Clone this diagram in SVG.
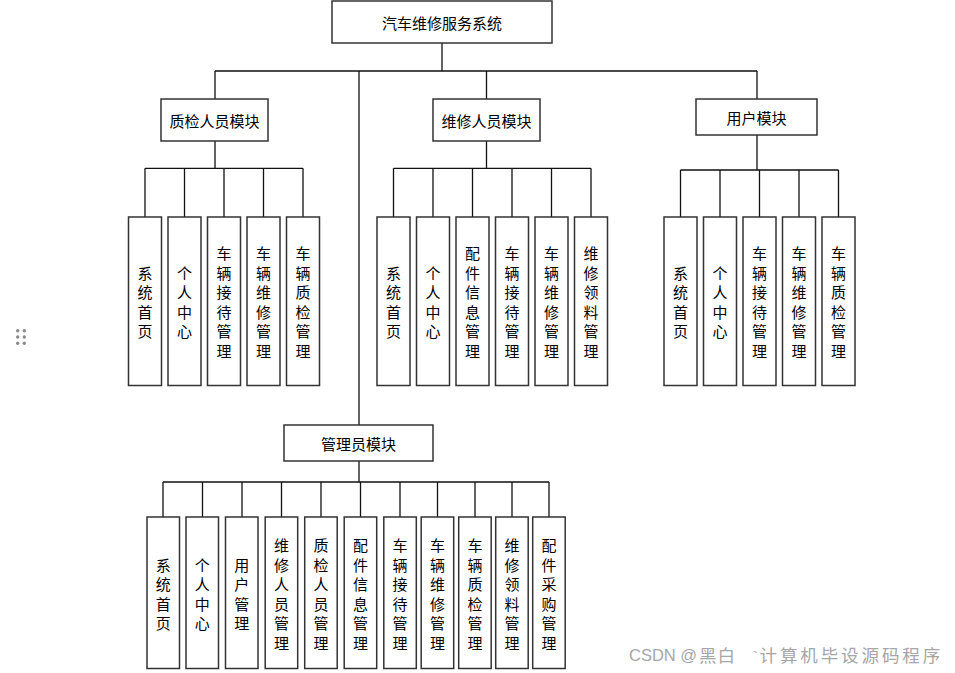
<svg xmlns="http://www.w3.org/2000/svg" width="955" height="673" viewBox="0 0 955 673">
<style>
.box{fill:#fff;stroke:#333;stroke-width:1.5}
.ln{stroke:#111;stroke-width:1.3;fill:none}
.t{font-family:"Noto Sans CJK SC","Noto Sans CJK JP",sans-serif;font-size:15px;fill:#000;text-anchor:middle;dominant-baseline:central}
.wm{font-family:"Liberation Sans","Noto Sans CJK SC",sans-serif;fill:#a6a6a6}
</style>
<rect width="955" height="673" fill="#fff"/>
<g id="connectors">
<path class="ln" d="M442,43V71M215,71H757M215,71V99M486.5,71V99M757,71V99M359,71V425"/>
<path class="ln" d="M215,141V168.3M145,168.3H303M145,168.3V217M184.5,168.3V217M224,168.3V217M263.5,168.3V217M303,168.3V217"/>
<path class="ln" d="M486.5,141V168.3M393.5,168.3H591M393.5,168.3V217M433,168.3V217M472.5,168.3V217M512,168.3V217M551.5,168.3V217M591,168.3V217"/>
<path class="ln" d="M757,135V170M680.5,170H838.5M680.5,170V217M720,170V217M759.5,170V217M799,170V217M838.5,170V217"/>
<path class="ln" d="M359,461V482M163,482H549M163,482V517M202.5,482V517M242,482V517M281.5,482V517M321,482V517M360.5,482V517M400,482V517M437.5,482V517M475,482V517M512,482V517M549,482V517"/>
</g>
<g id="root"><rect class="box" x="332" y="1" width="220" height="42"/><text class="t" x="442" y="22">汽车维修服务系统</text></g>
<g id="m-qc"><rect class="box" x="161" y="99" width="107" height="42"/><text class="t" x="214.5" y="120">质检人员模块</text></g>
<g id="m-repair"><rect class="box" x="433" y="99" width="107" height="42"/><text class="t" x="486.5" y="120">维修人员模块</text></g>
<g id="m-user"><rect class="box" x="696" y="99" width="121" height="36"/><text class="t" x="756.5" y="117">用户模块</text></g>
<g id="m-admin"><rect class="box" x="284" y="425" width="149" height="36"/><text class="t" x="358.5" y="443">管理员模块</text></g>

<g id="qc-1"><rect class="box" x="128.5" y="217" width="33" height="168.5"/><text class="t"><tspan x="145" y="271.5">系</tspan><tspan x="145" y="291">统</tspan><tspan x="145" y="310.5">首</tspan><tspan x="145" y="330">页</tspan></text></g>
<g id="qc-2"><rect class="box" x="168" y="217" width="33" height="168.5"/><text class="t"><tspan x="184.5" y="271.5">个</tspan><tspan x="184.5" y="291">人</tspan><tspan x="184.5" y="310.5">中</tspan><tspan x="184.5" y="330">心</tspan></text></g>
<g id="qc-3"><rect class="box" x="207.5" y="217" width="33" height="168.5"/><text class="t"><tspan x="224" y="252">车</tspan><tspan x="224" y="271.5">辆</tspan><tspan x="224" y="291">接</tspan><tspan x="224" y="310.5">待</tspan><tspan x="224" y="330">管</tspan><tspan x="224" y="349.5">理</tspan></text></g>
<g id="qc-4"><rect class="box" x="247" y="217" width="33" height="168.5"/><text class="t"><tspan x="263.5" y="252">车</tspan><tspan x="263.5" y="271.5">辆</tspan><tspan x="263.5" y="291">维</tspan><tspan x="263.5" y="310.5">修</tspan><tspan x="263.5" y="330">管</tspan><tspan x="263.5" y="349.5">理</tspan></text></g>
<g id="qc-5"><rect class="box" x="286.5" y="217" width="33" height="168.5"/><text class="t"><tspan x="303" y="252">车</tspan><tspan x="303" y="271.5">辆</tspan><tspan x="303" y="291">质</tspan><tspan x="303" y="310.5">检</tspan><tspan x="303" y="330">管</tspan><tspan x="303" y="349.5">理</tspan></text></g>

<g id="rp-1"><rect class="box" x="377" y="217" width="33" height="168.5"/><text class="t"><tspan x="393.5" y="271.5">系</tspan><tspan x="393.5" y="291">统</tspan><tspan x="393.5" y="310.5">首</tspan><tspan x="393.5" y="330">页</tspan></text></g>
<g id="rp-2"><rect class="box" x="416.5" y="217" width="33" height="168.5"/><text class="t"><tspan x="433" y="271.5">个</tspan><tspan x="433" y="291">人</tspan><tspan x="433" y="310.5">中</tspan><tspan x="433" y="330">心</tspan></text></g>
<g id="rp-3"><rect class="box" x="456" y="217" width="33" height="168.5"/><text class="t"><tspan x="472.5" y="252">配</tspan><tspan x="472.5" y="271.5">件</tspan><tspan x="472.5" y="291">信</tspan><tspan x="472.5" y="310.5">息</tspan><tspan x="472.5" y="330">管</tspan><tspan x="472.5" y="349.5">理</tspan></text></g>
<g id="rp-4"><rect class="box" x="495.5" y="217" width="33" height="168.5"/><text class="t"><tspan x="512" y="252">车</tspan><tspan x="512" y="271.5">辆</tspan><tspan x="512" y="291">接</tspan><tspan x="512" y="310.5">待</tspan><tspan x="512" y="330">管</tspan><tspan x="512" y="349.5">理</tspan></text></g>
<g id="rp-5"><rect class="box" x="535" y="217" width="33" height="168.5"/><text class="t"><tspan x="551.5" y="252">车</tspan><tspan x="551.5" y="271.5">辆</tspan><tspan x="551.5" y="291">维</tspan><tspan x="551.5" y="310.5">修</tspan><tspan x="551.5" y="330">管</tspan><tspan x="551.5" y="349.5">理</tspan></text></g>
<g id="rp-6"><rect class="box" x="574.5" y="217" width="33" height="168.5"/><text class="t"><tspan x="591" y="252">维</tspan><tspan x="591" y="271.5">修</tspan><tspan x="591" y="291">领</tspan><tspan x="591" y="310.5">料</tspan><tspan x="591" y="330">管</tspan><tspan x="591" y="349.5">理</tspan></text></g>

<g id="us-1"><rect class="box" x="664" y="217" width="33" height="168.5"/><text class="t"><tspan x="680.5" y="271.5">系</tspan><tspan x="680.5" y="291">统</tspan><tspan x="680.5" y="310.5">首</tspan><tspan x="680.5" y="330">页</tspan></text></g>
<g id="us-2"><rect class="box" x="703.5" y="217" width="33" height="168.5"/><text class="t"><tspan x="720" y="271.5">个</tspan><tspan x="720" y="291">人</tspan><tspan x="720" y="310.5">中</tspan><tspan x="720" y="330">心</tspan></text></g>
<g id="us-3"><rect class="box" x="743" y="217" width="33" height="168.5"/><text class="t"><tspan x="759.5" y="252">车</tspan><tspan x="759.5" y="271.5">辆</tspan><tspan x="759.5" y="291">接</tspan><tspan x="759.5" y="310.5">待</tspan><tspan x="759.5" y="330">管</tspan><tspan x="759.5" y="349.5">理</tspan></text></g>
<g id="us-4"><rect class="box" x="782.5" y="217" width="33" height="168.5"/><text class="t"><tspan x="799" y="252">车</tspan><tspan x="799" y="271.5">辆</tspan><tspan x="799" y="291">维</tspan><tspan x="799" y="310.5">修</tspan><tspan x="799" y="330">管</tspan><tspan x="799" y="349.5">理</tspan></text></g>
<g id="us-5"><rect class="box" x="822" y="217" width="33" height="168.5"/><text class="t"><tspan x="838.5" y="252">车</tspan><tspan x="838.5" y="271.5">辆</tspan><tspan x="838.5" y="291">质</tspan><tspan x="838.5" y="310.5">检</tspan><tspan x="838.5" y="330">管</tspan><tspan x="838.5" y="349.5">理</tspan></text></g>

<g id="ad-1"><rect class="box" x="147" y="517" width="32.5" height="151.5"/><text class="t"><tspan x="163.2" y="563.5">系</tspan><tspan x="163.2" y="583">统</tspan><tspan x="163.2" y="602.5">首</tspan><tspan x="163.2" y="622">页</tspan></text></g>
<g id="ad-2"><rect class="box" x="186" y="517" width="32.5" height="151.5"/><text class="t"><tspan x="202.2" y="563.5">个</tspan><tspan x="202.2" y="583">人</tspan><tspan x="202.2" y="602.5">中</tspan><tspan x="202.2" y="622">心</tspan></text></g>
<g id="ad-3"><rect class="box" x="225.5" y="517" width="32.5" height="151.5"/><text class="t"><tspan x="241.8" y="563.5">用</tspan><tspan x="241.8" y="583">户</tspan><tspan x="241.8" y="602.5">管</tspan><tspan x="241.8" y="622">理</tspan></text></g>
<g id="ad-4"><rect class="box" x="265.2" y="517" width="32.5" height="151.5"/><text class="t"><tspan x="281.5" y="544">维</tspan><tspan x="281.5" y="563.5">修</tspan><tspan x="281.5" y="583">人</tspan><tspan x="281.5" y="602.5">员</tspan><tspan x="281.5" y="622">管</tspan><tspan x="281.5" y="641.5">理</tspan></text></g>
<g id="ad-5"><rect class="box" x="304.7" y="517" width="32.5" height="151.5"/><text class="t"><tspan x="321" y="544">质</tspan><tspan x="321" y="563.5">检</tspan><tspan x="321" y="583">人</tspan><tspan x="321" y="602.5">员</tspan><tspan x="321" y="622">管</tspan><tspan x="321" y="641.5">理</tspan></text></g>
<g id="ad-6"><rect class="box" x="344.2" y="517" width="32.5" height="151.5"/><text class="t"><tspan x="360.5" y="544">配</tspan><tspan x="360.5" y="563.5">件</tspan><tspan x="360.5" y="583">信</tspan><tspan x="360.5" y="602.5">息</tspan><tspan x="360.5" y="622">管</tspan><tspan x="360.5" y="641.5">理</tspan></text></g>
<g id="ad-7"><rect class="box" x="383.8" y="517" width="32.5" height="151.5"/><text class="t"><tspan x="400" y="544">车</tspan><tspan x="400" y="563.5">辆</tspan><tspan x="400" y="583">接</tspan><tspan x="400" y="602.5">待</tspan><tspan x="400" y="622">管</tspan><tspan x="400" y="641.5">理</tspan></text></g>
<g id="ad-8"><rect class="box" x="421.2" y="517" width="32.5" height="151.5"/><text class="t"><tspan x="437.5" y="544">车</tspan><tspan x="437.5" y="563.5">辆</tspan><tspan x="437.5" y="583">维</tspan><tspan x="437.5" y="602.5">修</tspan><tspan x="437.5" y="622">管</tspan><tspan x="437.5" y="641.5">理</tspan></text></g>
<g id="ad-9"><rect class="box" x="458.7" y="517" width="32.5" height="151.5"/><text class="t"><tspan x="475" y="544">车</tspan><tspan x="475" y="563.5">辆</tspan><tspan x="475" y="583">质</tspan><tspan x="475" y="602.5">检</tspan><tspan x="475" y="622">管</tspan><tspan x="475" y="641.5">理</tspan></text></g>
<g id="ad-10"><rect class="box" x="495.7" y="517" width="32.5" height="151.5"/><text class="t"><tspan x="512" y="544">维</tspan><tspan x="512" y="563.5">修</tspan><tspan x="512" y="583">领</tspan><tspan x="512" y="602.5">料</tspan><tspan x="512" y="622">管</tspan><tspan x="512" y="641.5">理</tspan></text></g>
<g id="ad-11"><rect class="box" x="532.7" y="517" width="32.5" height="151.5"/><text class="t"><tspan x="549" y="544">配</tspan><tspan x="549" y="563.5">件</tspan><tspan x="549" y="583">采</tspan><tspan x="549" y="602.5">购</tspan><tspan x="549" y="622">管</tspan><tspan x="549" y="641.5">理</tspan></text></g>

<g id="handle" fill="#8a8a8a">
<circle cx="17.7" cy="330.7" r="1.7"/><circle cx="24.3" cy="330.7" r="1.7"/>
<circle cx="17.7" cy="337" r="1.7"/><circle cx="24.3" cy="337" r="1.7"/>
<circle cx="17.7" cy="343.3" r="1.7"/><circle cx="24.3" cy="343.3" r="1.7"/>
</g>
<g id="watermark">
<text class="wm" x="629" y="661" font-size="16.5">CSDN @</text>
<text class="wm" x="699" y="662" font-size="17.5" letter-spacing="1">黑白</text>
<text class="wm" x="753" y="662" font-size="15">`</text>
<text class="wm" x="759.5" y="662" font-size="17.5" letter-spacing="2.9">计算机毕设源码程序</text>
</g>
</svg>
